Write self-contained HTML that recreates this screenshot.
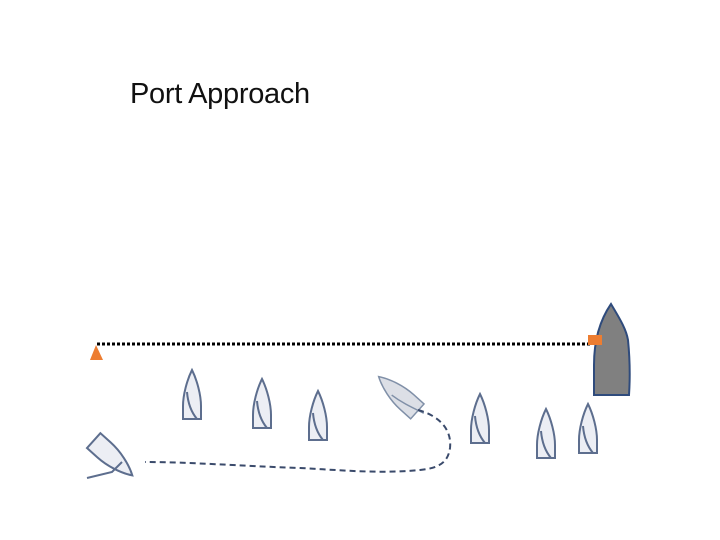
<!DOCTYPE html>
<html><head><style>
body{margin:0;width:720px;height:540px;background:#fff;overflow:hidden;position:relative}
.t{position:absolute;left:130px;top:78px;font-family:"Liberation Sans",sans-serif;font-size:29px;letter-spacing:-0.3px;color:#111}
</style></head><body>
<div class="t">Port Approach</div>
<svg width="720" height="540" style="position:absolute;left:0;top:0">
<defs>
<g id="b">
<path d="M9,0 C14,10 18,25 18,36 L18,49 L0,49 L0,36 C0,25 4,10 9,0 Z" fill="#eceef4" stroke="#5d6e8e" stroke-width="2"/>
<path d="M4,22 C5,34 9,43 14,49" fill="none" stroke="#5d6e8e" stroke-width="2"/>
</g>
</defs>
<line x1="97" y1="344" x2="590" y2="344" stroke="#000" stroke-width="3" stroke-dasharray="3 2"/>
<polygon points="96,345 90,360 103,360" fill="#ed7d31"/>
<path d="M611,304 C618,316 626,328 628,340 C630,360 630,380 629,395 L594,395 L594,365 C594,340 600,320 611,304 Z" fill="#808080" stroke="#2f4b7c" stroke-width="2"/>
<rect x="588" y="335" width="14" height="10" fill="#ed7d31"/>
<use href="#b" transform="translate(183,370)"/>
<use href="#b" transform="translate(253,379)"/>
<use href="#b" transform="translate(309,391)"/>
<use href="#b" transform="translate(471,394)"/>
<use href="#b" transform="translate(537,409)"/>
<use href="#b" transform="translate(579,404)"/>
<g transform="translate(398,394) rotate(-48) translate(-10,-26)">
<path d="M10,0 C16,10 20,25 20,38 L20,52 L0,52 L0,38 C0,25 4,10 10,0 Z" fill="#dcdfe6" stroke="#8090a8" stroke-width="1.5"/>
<path d="M5,22 C6,34 9,44 13,58" fill="none" stroke="#8090a8" stroke-width="1.5"/>
</g>
<g transform="translate(113,458) rotate(132) translate(-10,-26)">
<path d="M10,0 C16,10 20,25 20,38 L20,52 L0,52 L0,38 C0,25 4,10 10,0 Z" fill="#eceef4" stroke="#5d6e8e" stroke-width="2"/>
</g>
<path d="M87,478 L112,472 L122,462" fill="none" stroke="#5d6e8e" stroke-width="2"/>
<path d="M418,410 C440,416 452,430 450,448 C448,462 440,468 420,470 C380,474 340,470 300,468 C240,466 190,462 145,462" fill="none" stroke="#3a4a6b" stroke-width="2" stroke-dasharray="6 4"/>
</svg>
</body></html>
